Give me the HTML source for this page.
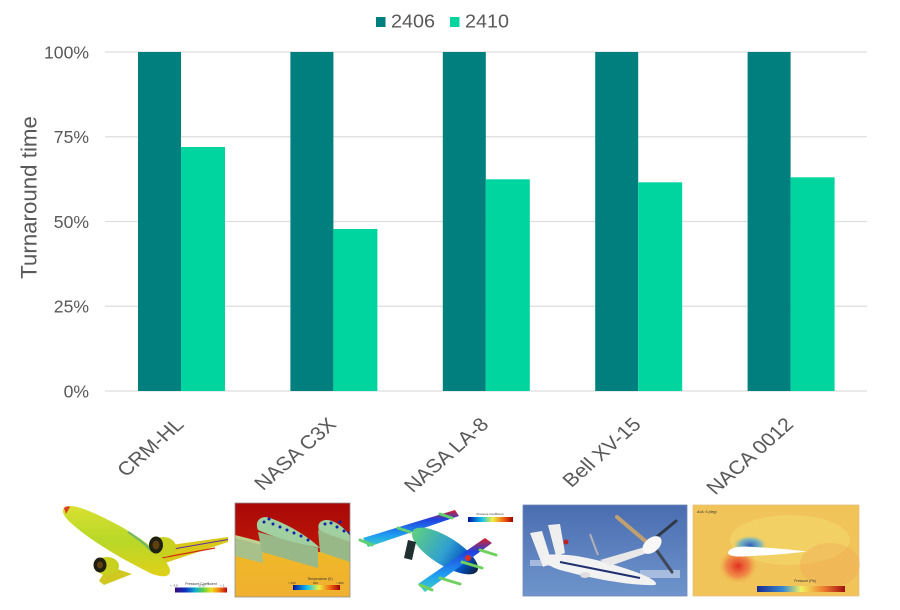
<!DOCTYPE html>
<html><head><meta charset="utf-8"><style>
html,body{margin:0;padding:0;background:#fff;}
svg{display:block;}
text{font-family:"Liberation Sans",Arial,sans-serif;}
</style></head><body>
<svg width="900" height="610" viewBox="0 0 900 610" xmlns="http://www.w3.org/2000/svg">
<defs>
<linearGradient id="cbar1" x1="0" x2="1" y1="0" y2="0">
<stop offset="0" stop-color="#3a0a7a"/><stop offset="0.2" stop-color="#1030c0"/><stop offset="0.4" stop-color="#10b0d0"/><stop offset="0.55" stop-color="#60d040"/><stop offset="0.7" stop-color="#f0e020"/><stop offset="0.85" stop-color="#f08010"/><stop offset="1" stop-color="#c00010"/></linearGradient>
<linearGradient id="cbar2" x1="0" x2="1" y1="0" y2="0">
<stop offset="0" stop-color="#0010a0"/><stop offset="0.3" stop-color="#10c0f0"/><stop offset="0.55" stop-color="#f0f040"/><stop offset="0.8" stop-color="#f06010"/><stop offset="1" stop-color="#a00000"/></linearGradient>
<linearGradient id="cbar3" x1="0" x2="1" y1="0" y2="0">
<stop offset="0" stop-color="#1a2a90"/><stop offset="0.3" stop-color="#3a8ad0"/><stop offset="0.5" stop-color="#f0f060"/><stop offset="0.75" stop-color="#f08030"/><stop offset="1" stop-color="#a01010"/></linearGradient>
<linearGradient id="fus1" x1="0" y1="0" x2="0" y2="1">
<stop offset="0" stop-color="#d8e030"/><stop offset="0.5" stop-color="#b8d828"/><stop offset="1" stop-color="#e0d018"/></linearGradient>
<linearGradient id="sky" x1="0" y1="0" x2="0" y2="1">
<stop offset="0" stop-color="#4a6db0"/><stop offset="1" stop-color="#6f95cc"/></linearGradient>
<linearGradient id="redtop" x1="0" y1="0" x2="0" y2="1">
<stop offset="0" stop-color="#a80808"/><stop offset="1" stop-color="#c01808"/></linearGradient>
<linearGradient id="floor" x1="0" y1="0" x2="0" y2="1">
<stop offset="0" stop-color="#f0c020"/><stop offset="1" stop-color="#f0b030"/></linearGradient>
<linearGradient id="fus3" x1="0" y1="0" x2="1" y2="0">
<stop offset="0" stop-color="#60d080"/><stop offset="0.5" stop-color="#30a0d0"/><stop offset="0.8" stop-color="#0050c0"/><stop offset="1" stop-color="#102040"/></linearGradient>
<linearGradient id="wing3" x1="0" y1="0" x2="0" y2="1">
<stop offset="0" stop-color="#e02020"/><stop offset="0.25" stop-color="#2040e0"/><stop offset="0.7" stop-color="#20a0f0"/><stop offset="1" stop-color="#40d0c0"/></linearGradient>
<radialGradient id="blueblob" cx="0.5" cy="0.5" r="0.5">
<stop offset="0" stop-color="#3060c0"/><stop offset="0.6" stop-color="#60b0d0" stop-opacity="0.8"/><stop offset="1" stop-color="#f0d060" stop-opacity="0"/></radialGradient>
<radialGradient id="redblob" cx="0.5" cy="0.5" r="0.5">
<stop offset="0" stop-color="#e03020"/><stop offset="0.6" stop-color="#f07040" stop-opacity="0.7"/><stop offset="1" stop-color="#f0c050" stop-opacity="0"/></radialGradient>
</defs>

<!-- Legend -->
<rect x="376" y="17" width="9.5" height="10" fill="#007f7f"/>
<text x="391" y="27.3" font-size="18.5" fill="#595959" textLength="44" lengthAdjust="spacingAndGlyphs">2406</text>
<rect x="450" y="17" width="9.5" height="10" fill="#00d5a0"/>
<text x="465" y="27.3" font-size="18.5" fill="#595959" textLength="44" lengthAdjust="spacingAndGlyphs">2410</text>

<!-- Gridlines -->
<g stroke="#dedede" stroke-width="1.2">
<line x1="105" y1="52" x2="867" y2="52"/>
<line x1="105" y1="136.75" x2="867" y2="136.75"/>
<line x1="105" y1="221.5" x2="867" y2="221.5"/>
<line x1="105" y1="306.25" x2="867" y2="306.25"/>
<line x1="105" y1="391" x2="867" y2="391"/>
</g>

<!-- Y tick labels -->
<g font-size="17.6" fill="#595959" text-anchor="end">
<text x="89" y="58.3">100%</text>
<text x="89" y="143">75%</text>
<text x="89" y="227.8">50%</text>
<text x="89" y="312.5">25%</text>
<text x="89" y="397.3">0%</text>
</g>

<!-- Y axis title -->
<text transform="translate(36.5,197.5) rotate(-90)" font-size="22.3" fill="#595959" text-anchor="middle">Turnaround time</text>

<!-- Bars -->
<g fill="#007f7f">
<rect x="138" y="52" width="43" height="339"/>
<rect x="290.4" y="52" width="43" height="339"/>
<rect x="442.8" y="52" width="43" height="339"/>
<rect x="595.2" y="52" width="43" height="339"/>
<rect x="747.6" y="52" width="43" height="339"/>
</g>
<g fill="#00d5a0">
<rect x="181" y="147" width="44" height="244"/>
<rect x="333.4" y="229" width="44" height="162"/>
<rect x="485.8" y="179.3" width="44" height="211.7"/>
<rect x="638.2" y="182.3" width="44" height="208.7"/>
<rect x="790.6" y="177.3" width="44" height="213.7"/>
</g>

<!-- Category labels -->
<g font-size="19" fill="#595959" text-anchor="end">
<text transform="translate(185,425.5) scale(1.13,1) rotate(-45)">CRM-HL</text>
<text transform="translate(337.4,425.5) scale(1.13,1) rotate(-45)">NASA C3X</text>
<text transform="translate(489.8,425.5) scale(1.13,1) rotate(-45)">NASA LA-8</text>
<text transform="translate(642.2,425.5) scale(1.13,1) rotate(-45)">Bell XV-15</text>
<text transform="translate(794.6,425.5) scale(1.13,1) rotate(-45)">NACA 0012</text>
</g>

<!-- Image 1: CRM-HL -->
<g>
<!-- right wing -->
<polygon points="135,550 228,537 228,542 165,563 138,562" fill="#d8c818"/>
<line x1="150" y1="553" x2="228" y2="539.5" stroke="#6030a0" stroke-width="1"/>
<line x1="150" y1="560" x2="215" y2="548" stroke="#d03010" stroke-width="1.2"/>
<!-- left wing -->
<polygon points="108,566 132,574 104,585 99,581" fill="#d0c820"/>
<!-- fuselage -->
<path d="M64,508 C70,502 90,510 120,526 C150,543 168,560 170,570 C171,578 160,578 148,572 C120,558 90,540 72,524 C64,517 61,511 64,508 Z" fill="url(#fus1)"/>
<path d="M64,508 C66,506 68,506 70,507 L66,514 Z" fill="#e04020"/>
<path d="M128,532 C140,540 148,546 152,552" stroke="#40a0a0" stroke-width="2" fill="none" opacity="0.6"/>
<!-- engines -->
<ellipse cx="163" cy="547" rx="13" ry="10" fill="#c8d020"/>
<ellipse cx="156" cy="545" rx="7" ry="8.5" fill="#202010"/>
<ellipse cx="156" cy="545" rx="3.5" ry="4.5" fill="#604010"/>
<ellipse cx="107" cy="566" rx="12" ry="9" fill="#c8d020"/>
<ellipse cx="100" cy="565" rx="6.5" ry="7.5" fill="#202010"/>
<ellipse cx="100" cy="565" rx="3" ry="3.5" fill="#604010"/>
<!-- colorbar -->
<text x="201" y="585" font-size="3.5" fill="#333" text-anchor="middle">Pressure Coefficient</text>
<text x="170" y="586.5" font-size="3" fill="#333">&lt; -3.0</text>
<text x="198" y="586.5" font-size="3" fill="#333">-0.75</text>
<text x="220" y="586.5" font-size="3" fill="#333">&gt; 1.</text>
<rect x="175" y="587.5" width="52" height="5" fill="url(#cbar1)"/>
</g>

<!-- Image 2: NASA C3X -->
<g>
<rect x="235" y="503" width="115" height="94" fill="url(#floor)"/>
<polygon points="235,503 350,503 350,548 320,552 262,545 235,538" fill="url(#redtop)"/>
<polygon points="235,537 262,544 263,563 235,556" fill="#a8c08a"/>
<polygon points="235,535 262,542 262,545 235,538" fill="#c0d090"/>
<polygon points="258,532 318,548 318,568 262,552" fill="#98b888"/>
<path d="M258,530 C254,520 262,515 270,518 C290,525 310,538 320,548 C300,544 275,538 258,530 Z" fill="#a0d0a0"/>
<g fill="#1020b0">
<circle cx="264" cy="522" r="1.5"/><circle cx="269" cy="519" r="1.5"/><circle cx="273" cy="524" r="1.5"/>
<circle cx="280" cy="527" r="1.5"/><circle cx="287" cy="530" r="1.5"/><circle cx="294" cy="533" r="1.5"/>
<circle cx="301" cy="536" r="1.5"/><circle cx="308" cy="540" r="1.5"/>
<circle cx="335" cy="526" r="1.5"/><circle cx="340" cy="522" r="1.5"/><circle cx="343" cy="529" r="1.5"/><circle cx="348" cy="533" r="1.5"/>
</g>
<polygon points="318,530 350,540 350,562 320,552" fill="#98b888"/>
<path d="M319,530 C316,522 324,518 332,521 C340,524 346,530 350,536 L350,542 C340,538 328,535 319,530 Z" fill="#a0d0a0"/>
<g fill="#1020b0"><circle cx="325" cy="524" r="1.5"/><circle cx="331" cy="523" r="1.5"/><circle cx="337" cy="527" r="1.5"/><circle cx="344" cy="531" r="1.5"/></g>
<text x="320" y="580" font-size="3.5" fill="#333" text-anchor="middle">Temperature (K)</text>
<text x="288" y="584" font-size="3" fill="#333">&lt; 400</text>
<text x="313" y="584" font-size="3" fill="#333">600</text>
<text x="336" y="584" font-size="3" fill="#333">&gt; 800</text>
<rect x="293" y="585" width="47" height="5" fill="url(#cbar2)"/>
<rect x="235" y="503" width="115" height="94" fill="none" stroke="#909090" stroke-width="0.8"/>
</g>

<!-- Image 3: NASA LA-8 -->
<g>
<polygon points="363,538 455,510 459,516 368,547" fill="url(#wing3)"/>
<g stroke="#60d070" stroke-width="3" stroke-linecap="round">
<line x1="360" y1="540" x2="372" y2="545"/><line x1="398" y1="528" x2="410" y2="532"/><line x1="440" y1="514" x2="452" y2="518"/>
</g>
<ellipse cx="445" cy="551" rx="38" ry="14" transform="rotate(32 445 551)" fill="url(#fus3)"/>
<polygon points="408,540 416,542 412,560 404,558" fill="#203030"/>
<polygon points="418,584 485,538 492,543 425,592" fill="url(#wing3)"/>
<g stroke="#70d060" stroke-width="3" stroke-linecap="round">
<line x1="440" y1="578" x2="460" y2="584"/><line x1="462" y1="562" x2="482" y2="568"/><line x1="480" y1="550" x2="496" y2="555"/>
<line x1="420" y1="585" x2="432" y2="590"/>
</g>
<circle cx="468" cy="558" r="3" fill="#e03020"/>
<text x="490" y="515" font-size="3" fill="#333" text-anchor="middle">Pressure Coefficient</text>
<rect x="468" y="517" width="45" height="5" fill="url(#cbar2)"/>
</g>

<!-- Image 4: Bell XV-15 -->
<g>
<rect x="523" y="505" width="164" height="91" fill="url(#sky)"/>
<g fill="#e8eef8" opacity="0.5">
<rect x="530" y="560" width="40" height="6"/><rect x="640" y="570" width="40" height="8"/>
</g>
<line x1="617" y1="517" x2="650" y2="545" stroke="#c0a070" stroke-width="4" stroke-linecap="round"/>
<line x1="653" y1="540" x2="676" y2="521" stroke="#303848" stroke-width="3" stroke-linecap="round"/>
<line x1="655" y1="548" x2="672" y2="572" stroke="#404858" stroke-width="3" stroke-linecap="round"/>
<line x1="590" y1="534" x2="598" y2="555" stroke="#b0b0b8" stroke-width="2"/>
<polygon points="530,533 542,531 552,563 543,567" fill="#f0f0f0"/>
<polygon points="548,525 560,524 565,553 556,556" fill="#eeeeee"/>
<path d="M545,555 C570,552 600,560 630,570 C645,575 660,582 655,585 C630,586 590,578 560,570 C548,566 540,560 545,555 Z" fill="#f2f2f2"/>
<line x1="560" y1="562" x2="640" y2="578" stroke="#203070" stroke-width="2"/>
<polygon points="600,560 645,547 650,552 610,566" fill="#e8e8e8"/>
<ellipse cx="652" cy="545" rx="11" ry="7" transform="rotate(-40 652 545)" fill="#f8f8f8"/>
<ellipse cx="585" cy="575" rx="5" ry="3" fill="#ddd"/>
<circle cx="566" cy="542" r="2.5" fill="#c02020"/>
<rect x="523" y="505" width="164" height="91" fill="none" stroke="#7088b8" stroke-width="0.8"/>
</g>

<!-- Image 5: NACA 0012 -->
<g>
<rect x="693" y="505" width="166" height="91" fill="#f0c458"/>
<ellipse cx="790" cy="540" rx="60" ry="25" fill="#f4dc70" opacity="0.5"/>
<ellipse cx="830" cy="565" rx="30" ry="22" fill="#f0a858" opacity="0.4"/>
<ellipse cx="738" cy="566" rx="20" ry="18" fill="url(#redblob)"/>
<ellipse cx="750" cy="545" rx="18" ry="10" fill="url(#blueblob)"/>
<path d="M728,553 C729,547 740,546 752,547 C775,548 795,550 807,551.5 C795,553 775,555 752,556 C740,557 729,557 728,553 Z" fill="#ffffff"/>
<text x="697" y="513" font-size="3.5" fill="#333" font-style="italic">AoA: 6 (deg)</text>
<text x="805" y="582" font-size="3.5" fill="#333" text-anchor="middle">Pressure (Pa)</text>
<rect x="757" y="586" width="88" height="6" fill="url(#cbar3)"/>
<rect x="693" y="505" width="166" height="91" fill="none" stroke="#e8c080" stroke-width="0.8"/>
</g>
</svg>
</body></html>
